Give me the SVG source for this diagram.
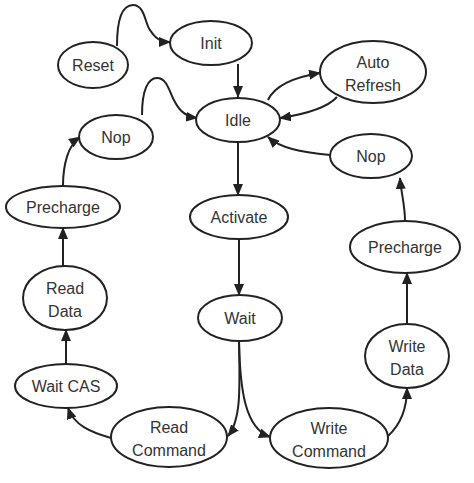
<svg xmlns="http://www.w3.org/2000/svg" width="474" height="483" viewBox="0 0 474 483">
<style>
.n ellipse{fill:#fff;stroke:#222;stroke-width:2}
.n text{font-family:"Liberation Sans",Arial,sans-serif;font-size:16px;fill:#333;text-anchor:middle}
.e path{fill:none;stroke:#222;stroke-width:2;marker-end:url(#ah)}
</style>
<defs>
<marker id="ah" markerUnits="userSpaceOnUse" markerWidth="12" markerHeight="10" refX="11" refY="5" orient="auto">
<path d="M0,0 L12,5 L0,10 Z" fill="#222"/>
</marker>
</defs>
<rect width="474" height="483" fill="#fff"/>
<g class="e" id="connectors">
<path d="M117,46 C117,20 122,5 133,5 C145,5 145,24 150,30 C155,38 160,42 170,42"/>
<path d="M238,64 L238,97"/>
<path d="M268,100 C275,85 295,77 320,73"/>
<path d="M337,97 C325,110 300,115 280,118"/>
<path d="M142,115 C142,90 148,78 157,78 C168,78 170,95 175,102 C180,112 188,117 197,118"/>
<path d="M330,155 C300,152 280,148 268,137"/>
<path d="M238,142 L238,195"/>
<path d="M239,239 L239,295"/>
<path d="M239,341 C240,390 241,420 228,436"/>
<path d="M239,341 C240,390 245,428 270,437"/>
<path d="M111,438 C90,432 74,425 68,408"/>
<path d="M66,364 L66,330"/>
<path d="M63,266 L63,228"/>
<path d="M63,186 C63,165 68,145 80,137"/>
<path d="M388,436 C400,425 407,410 407,388"/>
<path d="M407,324 L407,273"/>
<path d="M405,221 C405,205 401,192 400,178"/>
</g>
<g class="n" id="reset"><ellipse cx="93" cy="65" rx="35" ry="23"/><text x="93" y="71">Reset</text></g>
<g class="n" id="init"><ellipse cx="211" cy="43" rx="41" ry="22"/><text x="211" y="49">Init</text></g>
<g class="n" id="autorefresh"><ellipse cx="373" cy="72" rx="53" ry="31"/><text x="373" y="68">Auto</text><text x="373" y="91">Refresh</text></g>
<g class="n" id="idle"><ellipse cx="238" cy="120" rx="42" ry="22"/><text x="238" y="126">Idle</text></g>
<g class="n" id="nop1"><ellipse cx="116" cy="137" rx="37" ry="22"/><text x="116" y="143">Nop</text></g>
<g class="n" id="nop2"><ellipse cx="371" cy="156" rx="41" ry="22"/><text x="371" y="162">Nop</text></g>
<g class="n" id="precharge1"><ellipse cx="63" cy="207" rx="57" ry="21"/><text x="63" y="213">Precharge</text></g>
<g class="n" id="activate"><ellipse cx="239" cy="217" rx="49" ry="22"/><text x="239" y="223">Activate</text></g>
<g class="n" id="precharge2"><ellipse cx="405" cy="247" rx="55" ry="26"/><text x="405" y="253">Precharge</text></g>
<g class="n" id="readdata"><ellipse cx="65" cy="298" rx="42" ry="32"/><text x="65" y="294">Read</text><text x="65" y="317">Data</text></g>
<g class="n" id="wait"><ellipse cx="240" cy="318" rx="42" ry="23"/><text x="240" y="324">Wait</text></g>
<g class="n" id="waitcas"><ellipse cx="66" cy="386" rx="51" ry="22"/><text x="66" y="392">Wait CAS</text></g>
<g class="n" id="writedata"><ellipse cx="407" cy="356" rx="42" ry="32"/><text x="407" y="352">Write</text><text x="407" y="375">Data</text></g>
<g class="n" id="readcommand"><ellipse cx="169" cy="437" rx="58" ry="30"/><text x="169" y="433">Read</text><text x="169" y="456">Command</text></g>
<g class="n" id="writecommand"><ellipse cx="329" cy="438" rx="59" ry="30"/><text x="329" y="434">Write</text><text x="329" y="457">Command</text></g>
</svg>
